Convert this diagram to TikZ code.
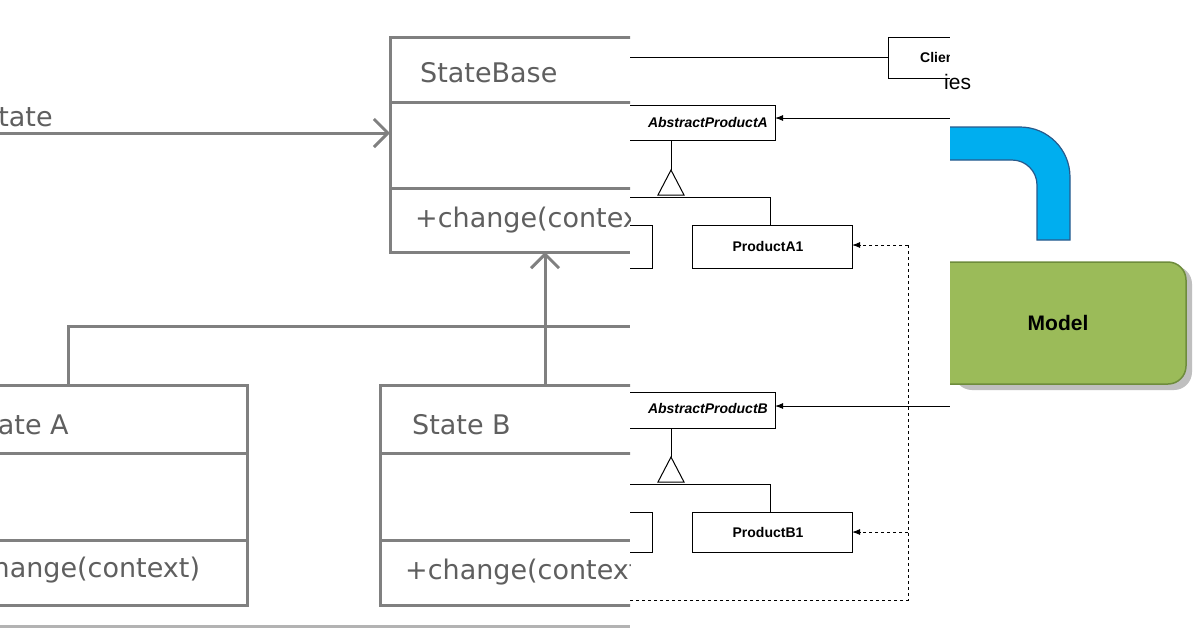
\documentclass[tikz,border=0pt]{standalone}
\usepackage{fontspec}
\setmainfont{Liberation Sans}
\newfontfamily\leftfont{DejaVu Sans}
\usetikzlibrary{arrows.meta}
\definecolor{gline}{RGB}{128,128,128}
\definecolor{gtext}{RGB}{95,95,95}
\definecolor{pipe}{RGB}{0,174,239}
\definecolor{pipeedge}{RGB}{40,90,140}
\definecolor{model}{RGB}{155,187,89}
\definecolor{modeledge}{RGB}{110,140,60}
\begin{document}
\begin{tikzpicture}[x=1pt,y=-1pt,
  gbox/.style={draw=gline,line width=3pt,fill=white},
  gl/.style={draw=gline,line width=3pt},
  gt/.style={text=gtext,font=\leftfont\fontsize{27}{27}\selectfont,anchor=west,inner sep=0},
  bbox/.style={draw=black,line width=1pt,fill=white},
  bl/.style={draw=black,line width=1pt},
  bt/.style={font=\bfseries\fontsize{14}{14}\selectfont,inner sep=0},
  open/.style={-{Straight Barb[length=14pt,width=28pt,line width=3pt]}},
  fil/.style={-{Latex[length=8pt,width=6pt]}}]
\useasboundingbox (0,0) rectangle (1200,630);
\fill[white] (0,0) rectangle (1200,630);
% ---------- left panel ----------
\begin{scope}
\clip (0,0) rectangle (630,630);
\draw[gbox] (390,37) rectangle (660,252);
\draw[gl] (390,102) -- (660,102) (390,188) -- (660,188);
\node[gt] (sb) at (420,73) {StateBase};
\node[gt] (sbm) at (415,220) {+change(context)};
\node[gt] (st) at (-19,117) {State};
\coordinate (l0) at (0,133);
\coordinate (sbl) at (390,133);
\draw[gl,open] (l0) -- (sbl);
\draw[gbox] (-40,385) rectangle (247,605);
\draw[gl] (-40,453) -- (247,453) (-40,540) -- (247,540);
\node[gt] (sa) at (-30,425) {State A};
\node[gt] (sam) at (-45,570) {+change(context)};
\draw[gbox] (380,385) rectangle (700,605);
\draw[gl] (380,453) -- (700,453) (380,540) -- (700,540);
\node[gt] (sbb) at (412,425) {State B};
\node[gt] (sbbm) at (405,572) {+change(context)};
\draw[gl] (68,385) -- (68,326) -- (630,326);
\draw[gl,open] (545,385) -- (545,252);
\draw[draw=gline!60,line width=3pt] (0,626) -- (630,626);
\end{scope}
% ---------- middle panel ----------
\begin{scope}
\clip (630,0) rectangle (950,630);
\draw[bl] (630,57) -- (888,57);
\draw[bbox] (888,37) rectangle (990,78);
\node[bt,anchor=west] (cl) at (920,57) {Client};
\draw[bbox] (560,105) rectangle (775,140);
\node[bt,font=\bfseries\itshape\fontsize{14}{14}\selectfont,anchor=east] (apa) at (768,122) {AbstractProductA};
\draw[bl,fil] (950,118) -- (775,118);
\draw[bl] (671,140) -- (671,170);
\draw[bl,fill=white] (671,170) -- (684,195) -- (658,195) -- cycle;
\draw[bl] (600,197) -- (770,197) -- (770,225);
\draw[bbox] (560,225) rectangle (652,268);
\draw[bbox] (692,225) rectangle (852,268);
\node[bt] (pa1) at (768,246) {ProductA1};
\draw[bl,dashed,fil] (908,245) -- (852,245);
\draw[bl,dashed] (908,245) -- (908,600) -- (630,600);
\draw[bbox] (560,392) rectangle (775,428);
\node[bt,font=\bfseries\itshape\fontsize{14}{14}\selectfont,anchor=east] (apb) at (768,408) {AbstractProductB};
\draw[bl,fil] (950,406) -- (775,406);
\draw[bl] (671,428) -- (671,457);
\draw[bl,fill=white] (671,457) -- (684,482) -- (658,482) -- cycle;
\draw[bl] (600,484) -- (770,484) -- (770,512);
\draw[bbox] (560,512) rectangle (652,552);
\draw[bbox] (692,512) rectangle (852,552);
\node[bt] (pb1) at (768,532) {ProductB1};
\draw[bl,dashed,fil] (908,532) -- (852,532);
\end{scope}
% ---------- right panel ----------
\begin{scope}
\clip (950,0) rectangle (1200,630);
\fill[white] (950,0) rectangle (1200,630);
\draw[pipeedge,line width=1.2pt,fill=pipe] (940,127) -- (1020,127) arc (-90:0:50) -- (1070,240) -- (1037,240) -- (1037,185) arc (0:-90:25) -- (940,160) -- cycle;
\fill[gray!50,rounded corners=18pt] (954,266) rectangle (1192,390);
\draw[modeledge,line width=1.5pt,fill=model,rounded corners=18pt] (930,262) rectangle (1186,384);
\node[font=\bfseries\fontsize{21}{21}\selectfont] (m) at (1058,323) {Model};
\end{scope}
\node[font=\fontsize{21}{21}\selectfont,anchor=west,inner sep=0] (ie) at (944,82) {ies};
\end{tikzpicture}
\end{document}
